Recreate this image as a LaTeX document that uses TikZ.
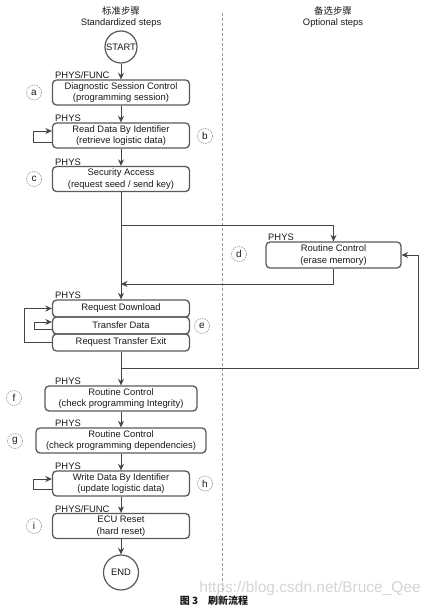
\documentclass[tikz,border=0pt]{standalone}
\usepackage{fontspec}
\setmainfont{Liberation Sans}
\newfontfamily\cjk{Noto Sans CJK SC}
\usetikzlibrary{arrows.meta}
\definecolor{linec}{HTML}{454545}
\definecolor{boxc}{HTML}{5A5A5A}
\definecolor{txt}{HTML}{1A1A1A}
\begin{document}
\begin{tikzpicture}[x=1pt,y=-1pt,
  every node/.style={text=txt},
  stepbox/.style={draw=boxc, line width=1.3pt, rounded corners=4pt, minimum width=137pt, minimum height=25pt, inner sep=0pt, align=center, font=\fontsize{9.4}{11.5}\selectfont},
  term/.style={circle, draw=boxc, line width=1.2pt, minimum size=32pt, inner sep=0pt, font=\fontsize{9.4}{10}\selectfont},
  tag/.style={circle, draw=gray!75, dash pattern=on 1.5pt off 1pt, line width=0.7pt, minimum size=15pt, inner sep=0pt, font=\fontsize{10}{10}\selectfont},
  prot/.style={anchor=base west, inner sep=0pt, font=\fontsize{9.4}{10}\selectfont},
  arr/.style={draw=linec, line width=0.95pt, -{Stealth[length=6.5pt,width=6pt]}},
  head/.style={font=\fontsize{9.4}{10}\selectfont, inner sep=0pt}
]
\fill[white] (0,0) rectangle (432,607);
\useasboundingbox (0,0) rectangle (432,607);

% headers
\node[head] (h1) at (121,11) {\cjk 标准步骤};
\node[head] (h2) at (121,23) {Standardized steps};
\node[head] (h3) at (333,11) {\cjk 备选步骤};
\node[head] (h4) at (333,23) {Optional steps};

% divider
\coordinate (dtop) at (222,13);
\coordinate (dbot) at (222,590);
\draw[gray!80, line width=0.7pt, dash pattern=on 3pt off 2pt] (dtop) -- (dbot);

% nodes
\node[term] (start) at (121,47) {START};
\node[stepbox] (a) at (121,92.5) {Diagnostic Session Control\\(programming session)};
\node[stepbox] (b) at (121,135.5) {Read Data By Identifier\\(retrieve logistic data)};
\node[stepbox] (c) at (121,179) {Security Access\\(request seed / send key)};
\node[stepbox, minimum width=135pt, minimum height=26pt] (d) at (333.5,255) {Routine Control\\(erase memory)};
\node[stepbox, minimum height=17pt] (rd) at (121,308.5) {Request Download};
\node[stepbox, minimum height=17pt] (td) at (121,325.5) {Transfer Data};
\node[stepbox, minimum height=17pt] (rte) at (121,342.5) {Request Transfer Exit};
\node[stepbox, minimum width=152pt] (f) at (121,398.5) {Routine Control\\(check programming Integrity)};
\node[stepbox, minimum width=170pt] (g) at (121,440.5) {Routine Control\\(check programming dependencies)};
\node[stepbox] (h) at (121,483.5) {Write Data By Identifier\\(update logistic data)};
\node[stepbox] (i) at (121,526) {ECU Reset\\(hard reset)};
\node[term, minimum size=35pt] (end) at (121,572.5) {END};

% protocol labels
\node[prot] (pa) at (55,78.5) {PHYS/FUNC};
\node[prot] (pb) at (55,121.5) {PHYS};
\node[prot] (pc) at (55,165) {PHYS};
\node[prot] (pd) at (268,240.5) {PHYS};
\node[prot] (pe) at (55,298.5) {PHYS};
\node[prot] (pf) at (55,384.5) {PHYS};
\node[prot] (pg) at (55,426.5) {PHYS};
\node[prot] (ph) at (55,469.5) {PHYS};
\node[prot] (pi) at (55,512) {PHYS/FUNC};

% step tags
\node[tag] (ta) at (34,92.5) {a};
\node[tag] (tb) at (205,136) {b};
\node[tag] (tc) at (34,179) {c};
\node[tag] (td2) at (239,254) {d};
\node[tag] (te) at (202,326) {e};
\node[tag] (tf) at (14,398) {f};
\node[tag] (tg) at (15,441) {g};
\node[tag] (th) at (205,483.5) {h};
\node[tag] (ti) at (34,526) {i};

% connectors
\draw[arr] (start) -- (a);
\draw[arr] (a) -- (b);
\draw[arr] (b) -- (c);
\draw[arr] (c) -- (rd);
\coordinate (j1) at (121,225);
\coordinate (j2) at (121,284);
\coordinate (j3) at (121,368);
\coordinate (dr) at (418,255);
\draw[arr] (j1) -| (d.north);
\draw[arr] (d.south) |- (j2);
\draw[arr] (rte) -- (f);
\draw[arr] (j3) -| (dr) -- (d.east);
\draw[arr] (f) -- (g);
\draw[arr] (g) -- (h);
\draw[arr] (h) -- (i);
\draw[arr] (i) -- (end);

% loops
\draw[arr] ([yshift=-6.5pt]b.west) -- ++(-18,0) |- ([yshift=4.5pt]b.west);
\draw[arr] (rte.west) -- ++(-27,0) |- (rd.west);
\draw[arr] ([yshift=-4pt]td.west) -- ++(-17,0) |- ([yshift=3.5pt]td.west);
\draw[arr] ([yshift=-5.5pt]h.west) -- ++(-18,0) |- ([yshift=4.5pt]h.west);

% watermark and caption
\node[font=\fontsize{15.5}{16}\selectfont, text=gray!33, inner sep=0pt] (wm) at (310,588) {https://blog.csdn.net/Bruce\_Qee};
\node[font=\fontsize{10}{11}\selectfont\bfseries, inner sep=0pt] (cap) at (214,601) {\cjk\bfseries 图 3\quad 刷新流程};
\end{tikzpicture}
\end{document}
